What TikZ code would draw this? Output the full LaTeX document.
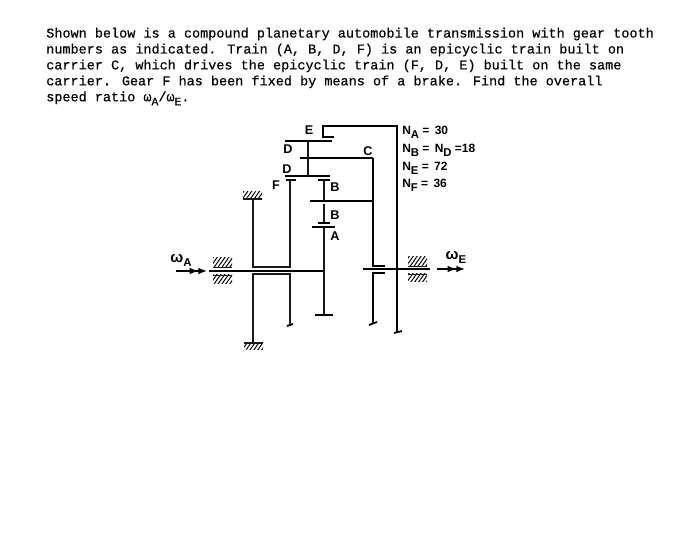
\documentclass[tikz,border=0pt]{standalone}
\usepackage{fontspec}
\setmainfont{Liberation Sans}
\newfontfamily\typefont[FakeBold=0.35]{Liberation Mono}
\usetikzlibrary{patterns.meta,arrows.meta}
\tikzset{
  shaftline/.style={line width=1.35pt,black},
  thinline/.style={line width=1.15pt,black!90},
  hatchblock/.style={pattern={Lines[angle=55,distance=2.4pt,line width=.75pt]},pattern color=black},
  gearlabel/.style={font=\fontsize{9.5}{10}\selectfont\bfseries,inner sep=0pt,text=black},
  omegalabel/.style={font=\fontsize{11.5}{12}\selectfont\bfseries,inner sep=0pt,text=black},
  datalabel/.style={font=\fontsize{9}{10}\selectfont\bfseries,inner sep=0pt,anchor=west,text=black},
  statement/.style={font=\typefont\fontsize{10.125}{11.95}\selectfont,inner sep=0pt,anchor=north west,align=left,text=black},
  powerarrow/.style={line width=1pt,-{Latex[length=6.5pt,width=5pt] Latex[length=6.5pt,width=5pt]}}
}
\newcommand{\subsc}[1]{\raisebox{-3pt}{\fontsize{8.5}{9}\selectfont #1}}
\begin{document}
\begin{tikzpicture}[x=.75pt,y=-.75pt]
\useasboundingbox[fill=white] (0,0) rectangle (700,534);

\node[statement] (problem) at (46,27.5) {Shown below is a compound planetary automobile transmission with gear tooth\\
numbers as indicated.  Train (A, B, D, F) is an epicyclic train built on\\
carrier C, which drives the epicyclic train (F, D, E) built on the same\\
carrier.  Gear F has been fixed by means of a brake.  Find the overall\\
speed ratio ω\subsc{A}/ω\subsc{E}.};

% bearings and grounds
\fill[hatchblock] (243,199) rectangle (262,192);
\fill[hatchblock] (244,343) rectangle (263,350);
\fill[hatchblock] (213,258) rectangle (232,267);
\fill[hatchblock] (213,275) rectangle (232,284);
\fill[hatchblock] (408,257) rectangle (427,266);
\fill[hatchblock] (408,274) rectangle (427,282);
\draw[thinline] (243,199) -- (262,199);
\draw[thinline] (244,343) -- (263,343);
\draw[thinline,line width=.6pt] (213,267) -- (232,267) (213,275) -- (232,275);
\draw[thinline,line width=.6pt] (408,266) -- (427,266) (408,274) -- (427,274);

% input shaft A, with the fixed sleeve and gear F
\draw[shaftline,line width=1.7pt] (209,271) -- (324,271);
\draw[thinline] (253,199) -- (253,267) -- (290,267) -- (290,180);
\draw[shaftline] (286,180) -- (296,180);
\draw[thinline] (290,325) -- (290,274) -- (253,274) -- (253,343);
\draw[shaftline] (287,326) -- (293,324);

% planets D and carrier C
\draw[shaftline] (285,141) -- (332,141);
\draw[shaftline] (300,158) -- (373,158);
\draw[shaftline] (285,176) -- (330,176);
\draw[thinline] (308,141) -- (308,176);
\draw[shaftline] (373,158) -- (373,266) -- (385,266);
\draw[shaftline] (373,323) -- (373,273) -- (385,273);
\draw[shaftline] (369,325) -- (377,322);
\draw[shaftline] (310,201) -- (373,201);

% planets B and sun A
\draw[shaftline] (318,180) -- (330,180);
\draw[thinline] (324,180) -- (324,201);
\draw[thinline] (324,204) -- (324,223);
\draw[shaftline] (318,223) -- (330,223);
\draw[shaftline] (312,227) -- (335,227);
\draw[thinline] (324,227) -- (324,315);
\draw[shaftline] (315,315) -- (333,315);

% ring E and output shaft
\draw[shaftline] (334,137) -- (323,137) -- (323,126) -- (397,126) -- (397,332);
\draw[shaftline] (394,333) -- (402,331);
\draw[shaftline,line width=1.7pt] (363,269) -- (430,269);

% input and output arrows
\coordinate (inA) at (176,271);
\coordinate (inB) at (207,271);
\coordinate (outA) at (437,269);
\coordinate (outB) at (465,269);
\draw[powerarrow] (inA) -- (inB);
\draw[powerarrow] (outA) -- (outB);

% labels
\node[omegalabel] (wa) at (181,260) {ω\subsc{A}};
\node[omegalabel] (we) at (456,257) {ω\subsc{E}};
\node[gearlabel] (lE) at (309,130) {E};
\node[gearlabel] (lD1) at (288,149) {D};
\node[gearlabel] (lD2) at (287,169) {D};
\node[gearlabel] (lF) at (276,185) {F};
\node[gearlabel] (lC) at (368,151) {C};
\node[gearlabel] (lB1) at (335,187) {B};
\node[gearlabel] (lB2) at (335,215) {B};
\node[gearlabel] (lA) at (335,236) {A};
\node[datalabel] (na) at (402,132) {N\subsc{A} = \,30};
\node[datalabel] (nb) at (402,150) {N\subsc{B} = \,N\subsc{D} =18};
\node[datalabel] (ne) at (402,168) {N\subsc{E} = \,72};
\node[datalabel] (nf) at (402,185) {N\subsc{F} = \,36};
\end{tikzpicture}
\end{document}
